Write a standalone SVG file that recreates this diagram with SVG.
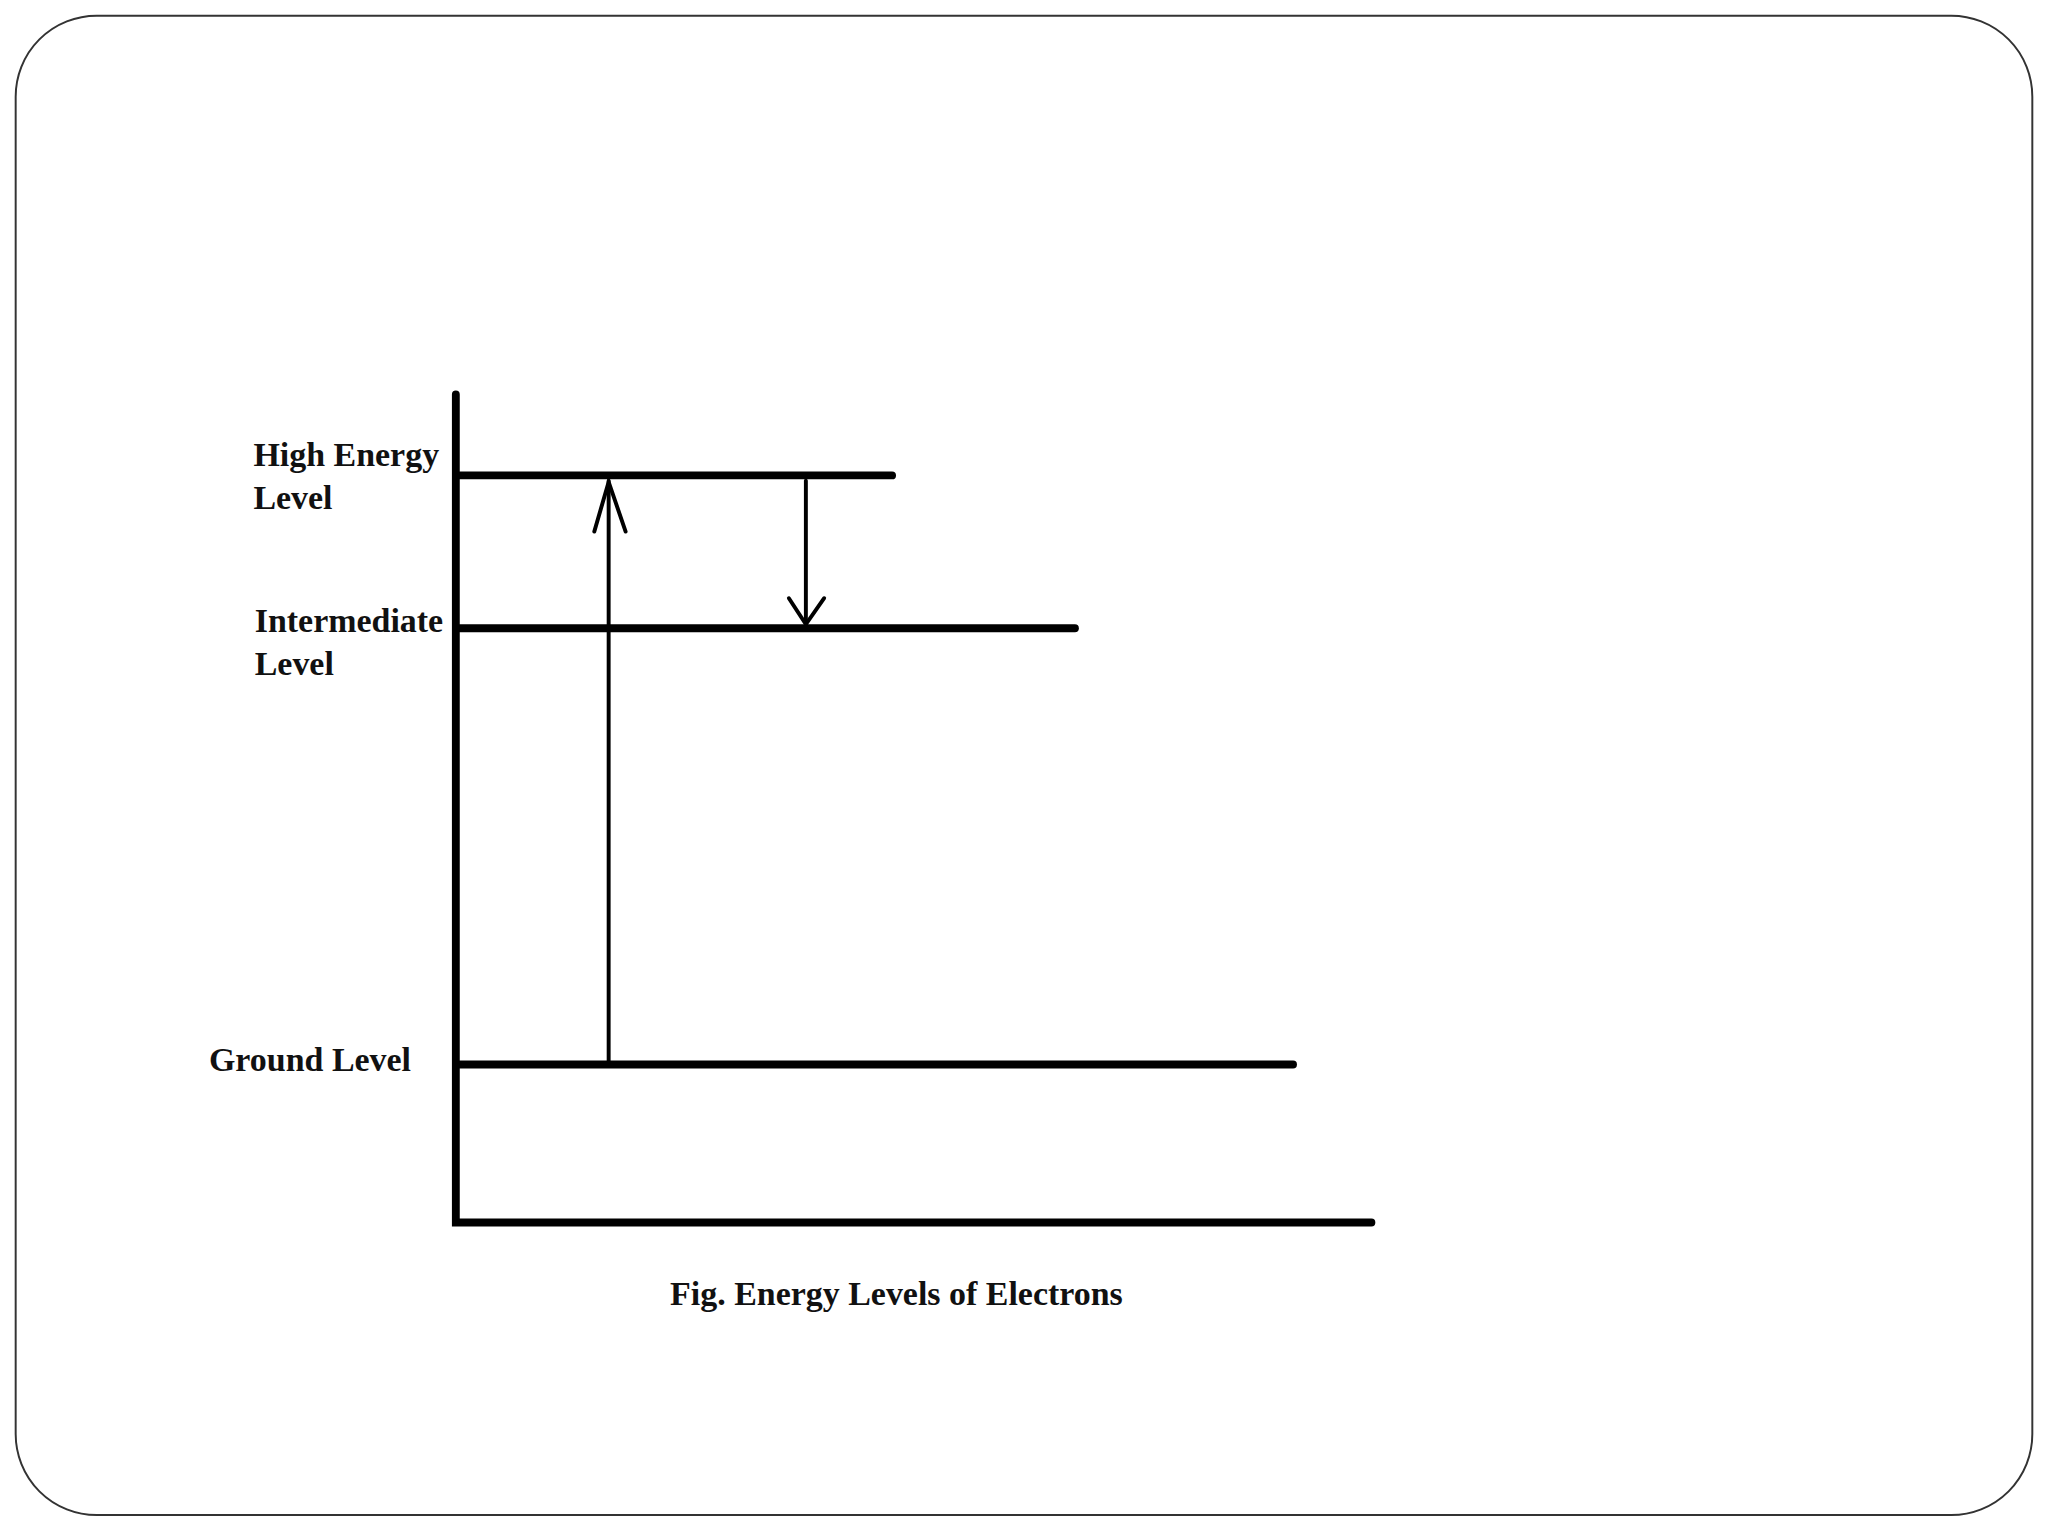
<svg xmlns="http://www.w3.org/2000/svg" width="2048" height="1536" viewBox="0 0 2048 1536">
<style>
.t{font-family:"Liberation Serif",serif;font-weight:bold;font-size:26px;fill:#111}
.th{stroke:#000;stroke-width:6;stroke-linecap:round;fill:none}
.tn{stroke:#000;stroke-width:3;stroke-linecap:round;fill:none}
</style>
<rect width="2048" height="1536" fill="#fff"/>
<g transform="scale(1.30612)">
<rect id="frame" x="12" y="12" width="1544" height="1148" rx="62" fill="#fff" stroke="#333" stroke-width="1.5"/>
<g id="axes"><polyline class="th" points="349,302 349,936 1050,936"/></g>
<g id="high"><line class="th" x1="352" y1="364" x2="683" y2="364"/><text class="t" x="194" y="357">High Energy</text><text class="t" x="194" y="390">Level</text></g>
<g id="intermediate"><line class="th" x1="352" y1="481" x2="823" y2="481"/><text class="t" x="195" y="484">Intermediate</text><text class="t" x="195" y="517">Level</text></g>
<g id="ground"><line class="th" x1="352" y1="815" x2="990" y2="815"/><text class="t" x="160" y="820">Ground Level</text></g>
<g id="connectors">
<line class="tn" x1="466" y1="815" x2="466" y2="368"/><polyline class="tn" points="455,407 466,369 479,407"/>
<line class="tn" x1="617" y1="368" x2="617" y2="478"/><polyline class="tn" points="604,458 617,478 631,458"/>
</g>
<text class="t" x="513" y="999" font-size="25">Fig. Energy Levels of Electrons</text>
</g>
</svg>
